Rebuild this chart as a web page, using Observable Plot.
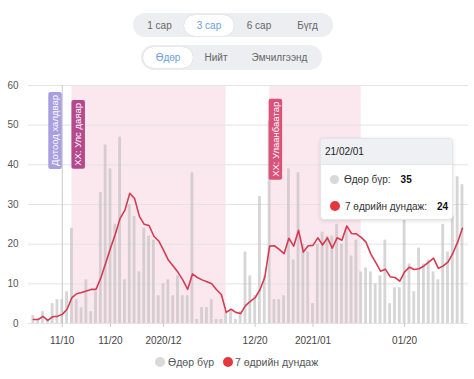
<!DOCTYPE html>
<html><head><meta charset="utf-8">
<script src="https://cdn.jsdelivr.net/npm/d3@7"></script>
<script src="https://cdn.jsdelivr.net/npm/@observablehq/plot@0.6"></script>
<style>
body{margin:0;background:#fff;font-family:"Liberation Sans",Arial,sans-serif;}
#wrap{position:relative;width:474px;height:379px;overflow:hidden;}
.seg{position:absolute;display:flex;align-items:center;background:#eceef1;border-radius:13px;box-sizing:border-box;padding:0 2px;}
.seg span{display:block;text-align:center;font-size:10px;color:#666;line-height:21px;height:21px;}
.seg span.on{background:#fff;border-radius:11px;color:#6c9de0;box-shadow:0 0 1px rgba(0,0,0,.2);}
#chart{position:absolute;left:0;top:75px;}
#tip{position:absolute;left:320px;top:138px;width:133px;height:82px;background:#fff;border:1px solid #e3e5e8;border-radius:4px;box-sizing:border-box;box-shadow:0 1px 4px rgba(0,0,0,.12);font-size:10px;color:#333;overflow:hidden;}
#tip .hd{height:25px;line-height:25px;background:#eef0f3;border-bottom:1px solid #e3e5e8;padding-left:4px;color:#222;}
#tip .row{position:absolute;left:9px;display:flex;align-items:center;height:14px;}
#tip .dot{width:9px;height:9px;border-radius:50%;margin-right:5px;}
#tip b{margin-left:10px;color:#111;}
#legend{position:absolute;left:155px;top:355px;display:flex;align-items:center;font-size:10.5px;color:#555;height:14px;}
#legend .dot{width:10px;height:10px;border-radius:50%;margin-right:3px;}
</style></head>
<body><div id="wrap">
<div class="seg" style="left:133px;top:13px;width:200px;height:24px;">
  <span style="width:49px">1 сар</span><span class="on" style="width:50px">3 сар</span><span style="width:50px">6 сар</span><span style="width:47px">Бүгд</span>
</div>
<div class="seg" style="left:141px;top:45px;width:181px;height:25px;">
  <span class="on" style="width:50px">Өдөр</span><span style="width:46px">Нийт</span><span style="width:81px">Эмчилгээнд</span>
</div>
<div id="chart"></div>
<div id="tip"></div>
<div id="legend"></div>
</div>
<script>
const startDate = "2020-11-04";
const daily = [
  2,1,3,1,5,6,6,8,24,6,
  4,11,3,8,33,45,39,25,47,11,
  30,27,13,24,22,21,7,10,11,7,
  12,7,7,38,1,4,4,6,1,1,
  3,3,1,3,18,12,7,32,12,51,
  6,6,7,39,16,38,20,18,5,20,
  23,22,22,25,20,24,17,21,13,14,
  13,10,12,21,5,9,9,26,15,8,
  19,15,16,13,11,25,18,27,37,35
];
const avg7 = [
  1,1,1.8,0.8,1.7,1.8,2.3,3.6,6.5,7.5,
  7.8,8.2,8.6,8.6,11.5,15.2,19,22.5,26.5,28.6,
  32.8,31.5,27,25,24.7,22,20.8,18.5,16,14.5,
  12.9,11,8.6,12.5,11.6,11,10.5,10,8.5,7.3,
  2.8,3.6,2.8,2.5,4.5,5.6,6.5,8.5,11.6,19.5,
  19.6,18.7,17.6,21.5,19.5,23.5,18,19.6,19.7,21.6,
  19.8,21.6,19,21.6,21,24.6,22.7,22.6,21.7,20.5,
  17.5,15.4,13.2,13.7,11.8,11.6,10.7,13,14.2,13.6,
  13.8,14.5,15.5,16.5,13.9,14.5,15.5,17.7,20.5,24
];
const bandStarts = ["2020-11-12", "2020-12-23"];
const bandEnds = ["2020-12-14", "2021-01-11"];
const eventDates = ["2020-11-10", "2020-11-12", "2020-12-23"];
const eventLabels = ["Дотоод халдвар", "ХХ: Улс даяар", "ХХ: Улаанбаатар"];
const eventColors = ["#a89ee0", "#b5498e", "#d8527a"];
const eventTop = [57.6, 55.6, 55.9];
const eventDx = [-7, 6.5, 6];
const tickDates = ["2020-11-10", "2020-11-20", "2020-12-01", "2020-12-20", "2021-01-01", "2021-01-20"];
const tickLabels = ["11/10", "11/20", "2020/12", "12/20", "2021/01", "01/20"];
const yTicks = [0, 10, 20, 30, 40, 50, 60];
const seriesNames = ["Өдөр бүр", "7 өдрийн дундаж"];
const seriesColors = ["#d9d9d9", "#e2373d"];

const start = new Date(startDate);
const dates = d3.utcDay.range(start, d3.utcDay.offset(start, daily.length));
const rows = dates.map((date, i) => ({date, daily: daily[i], avg: avg7[i]}));
const bands = bandStarts.map((s, i) => ({start: new Date(s), end: new Date(bandEnds[i])}));
const events = eventDates.map((d, i) => ({date: new Date(d), label: eventLabels[i], top: eventTop[i]}));
const tickMap = new Map(tickDates.map((d, i) => [+new Date(d), tickLabels[i]]));

const chart = Plot.plot({
  width: 474, height: 277,
  marginTop: 10, marginBottom: 29, marginLeft: 28, marginRight: 6,
  style: {fontFamily: "Liberation Sans, Arial, sans-serif", fontSize: "10px", color: "#444", background: "transparent"},
  x: {type: "utc", domain: [new Date("2020-11-03T00:00Z"), new Date("2021-02-02T06:00Z")]},
  y: {domain: [0, 60]},
  marks: [
    Plot.rect(bands, {x1: "start", x2: "end", fill: "#fbe8ef"}),
    Plot.gridY(yTicks, {stroke: "#e4e4e4", strokeOpacity: 1}),
    Plot.ruleX([events[0]], {x: "date", stroke: "#c8c8d4"}),
    Plot.rectY(rows, {x1: d => d3.utcHour.offset(d.date, -7), x2: d => d3.utcHour.offset(d.date, 7), y: "daily", fill: "#bdbdbd", fillOpacity: 0.62}),
    Plot.line(rows, {x: "date", y: "avg", stroke: "#d63b52", strokeWidth: 1.6}),
    Plot.axisY(yTicks, {tickSize: 0, tickPadding: 10, fill: "#555"}),
    Plot.axisX(tickDates.map(d => new Date(d)), {tickSize: 4, tickPadding: 9, stroke: "#ccc", fill: "#444", tickFormat: d => tickMap.get(+d)}),
    ...events.map((e, i) => Plot.text([e], {x: "date", y: "top", text: "label", rotate: -90, textAnchor: "end", fill: "white", dx: eventDx[i], fontSize: 9.5}))
  ]
});
document.getElementById("chart").appendChild(chart);

chart.querySelectorAll("text").forEach(t => {
  const i = eventLabels.indexOf(t.textContent);
  if (i < 0) return;
  const b = t.getBBox();
  const r = document.createElementNS("http://www.w3.org/2000/svg", "rect");
  r.setAttribute("x", b.x - 3);
  r.setAttribute("y", b.y - 1);
  r.setAttribute("width", b.width + 6);
  r.setAttribute("height", b.height + 2.5);
  r.setAttribute("rx", 2);
  r.setAttribute("fill", eventColors[i]);
  r.setAttribute("stroke", "none");
  const tr = t.getAttribute("transform");
  if (tr) r.setAttribute("transform", tr);
  t.parentNode.insertBefore(r, t);
});

const last = rows[rows.length - 1];
const fmt = d3.utcFormat("%y/%m/%d");
document.getElementById("tip").innerHTML =
  `<div class="hd">${fmt(last.date)}</div>` +
  `<div class="row" style="top:33px"><div class="dot" style="background:${seriesColors[0]}"></div>${seriesNames[0]}:<b>${last.daily}</b></div>` +
  `<div class="row" style="top:60px"><div class="dot" style="background:${seriesColors[1]};width:10px;height:10px"></div>${seriesNames[1]}:<b>${Math.round(last.avg)}</b></div>`;
document.getElementById("legend").innerHTML =
  `<div class="dot" style="background:${seriesColors[0]}"></div><span>${seriesNames[0]}</span>` +
  `<div class="dot" style="background:${seriesColors[1]};margin-left:9px;margin-right:2px"></div><span>${seriesNames[1]}</span>`;
</script>
</body></html>
